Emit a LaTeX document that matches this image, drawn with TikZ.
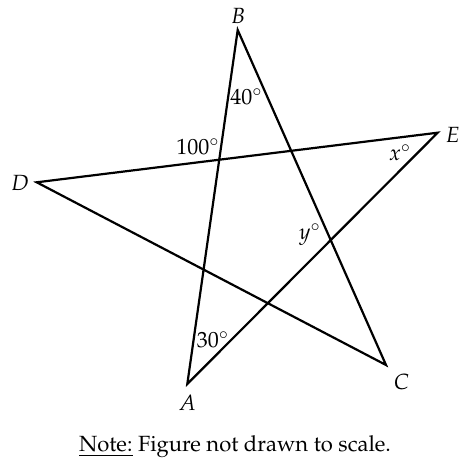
\documentclass[tikz,border=0pt]{standalone}
\usepackage[T1]{fontenc}
\usepackage{mathpazo}
\usepackage{tikz}
\usetikzlibrary{positioning}

\begin{document}
\begin{tikzpicture}[x=0.5pt,y=-0.5pt]
  \tikzset{ lab/.style={inner sep=1pt,font=\fontsize{11}{13}\selectfont},
            ang/.style={inner sep=0pt,font=\fontsize{11}{13}\selectfont},
  }
  \useasboundingbox (0,0) rectangle (474,464);
  \coordinate (A) at (187.3,384);
  \coordinate (B) at (237.7,30);
  \coordinate (C) at (386,365);
  \coordinate (D) at (36.7,182.3);
  \coordinate (E) at (437.7,132.7);

  % the points of the star
  \node[lab] (lA) at (187.3,403) {$A$};
  \node[lab] (lB) at (238,15.5) {$B$};
  \node[lab] (lC) at (401.7,382) {$C$};
  \node[lab] (lD) at (20,183) {$D$};
  \node[lab] (lE) at (452.7,135) {$E$};

  % the angles
  \node[ang] (a40) at (246.5,96.7) {$40^\circ$};
  \node[ang] (a100) at (198,146.7) {$100^\circ$};
  \node[ang] (ax) at (400,152.7) {$x^\circ$};
  \node[ang] (ay) at (310,235) {$y^\circ$};
  \node[ang] (a30) at (213,340) {$30^\circ$};

  % the connection between the points
  \draw[line width=1.1pt,line join=miter] (A) -- (B) -- (C) -- (D) -- (E) -- cycle;

  \node[lab] (note) at (235,446.7) {\underline{Note:} Figure not drawn to scale.};
\end{tikzpicture}
\end{document}
